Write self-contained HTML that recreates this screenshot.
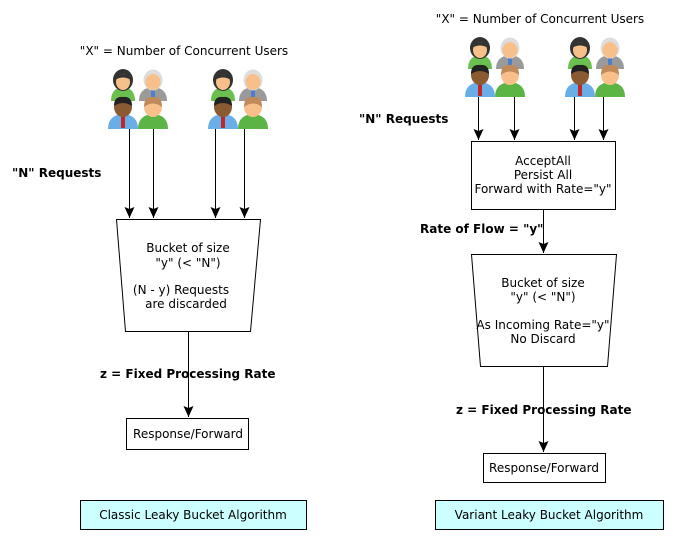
<!DOCTYPE html>
<html><head><meta charset="utf-8"><style>
body{margin:0;background:#fff;}
svg{display:block;font-family:"DejaVu Sans","Liberation Sans",sans-serif;font-size:12px;}
.b{font-weight:bold;}
</style></head><body>
<svg width="674" height="540" viewBox="0 0 674 540" xmlns="http://www.w3.org/2000/svg">
<defs>
<marker id="ar" markerWidth="12" markerHeight="10" refX="11" refY="5" orient="auto" markerUnits="userSpaceOnUse">
<path d="M0,0 L11,5 L0,10 L2,5 Z" fill="#000"/></marker>
<g id="woman">
<path d="M3,32 Q3,19 15,18 Q27,19 27,32 Z" fill="#6bbf4e"/>
<ellipse cx="15" cy="11" rx="10" ry="11" fill="#333"/>
<ellipse cx="15" cy="13" rx="7" ry="8" fill="#f7c08a"/>
<path d="M7,9 Q15,1 23,9 L23,11 Q15,6 7,11Z" fill="#333"/>
</g>
<g id="old">
<path d="M1,32 Q1,19 15,18 Q29,19 29,32 Z" fill="#9a9a9a"/>
<rect x="13" y="19" width="4" height="11" fill="#4a7fd0"/>
<ellipse cx="15" cy="11" rx="9.5" ry="10.5" fill="#ddd"/>
<ellipse cx="15" cy="13" rx="7.5" ry="8" fill="#f7c08a"/>
</g>
<g id="dark">
<path d="M0,34 Q0,20 15,19 Q30,20 30,34 Z" fill="#6aaee8"/>
<rect x="13" y="20" width="4" height="13" fill="#c0262a"/>
<ellipse cx="15" cy="12" rx="9" ry="10" fill="#8a5a32"/>
<path d="M6,11 Q6,1 15,2 Q24,1 24,11 Q15,5 6,11Z" fill="#222"/>
</g>
<g id="light">
<path d="M0,34 Q0,20 15,19 Q30,20 30,34 Z" fill="#5cb444"/>
<ellipse cx="15" cy="12" rx="9" ry="10" fill="#f7c08a"/>
<path d="M6,12 Q6,1 15,2 Q24,1 24,12 Q15,5 6,12Z" fill="#c08a5a"/>
</g>
<g id="grp">
<use href="#woman" x="0" y="0"/><use href="#old" x="30" y="0"/>
<use href="#dark" x="0" y="26"/><use href="#light" x="30" y="26"/>
</g>
</defs>

<!-- LEFT -->
<text x="184" y="55" text-anchor="middle">"X" = Number of Concurrent Users</text>
<use href="#grp" x="108" y="69"/>
<use href="#grp" x="208" y="69"/>
<g stroke="#000" stroke-width="1" marker-end="url(#ar)">
<line x1="129.5" y1="129" x2="129.5" y2="218"/>
<line x1="153.5" y1="129" x2="153.5" y2="218"/>
<line x1="215.5" y1="129" x2="215.5" y2="218"/>
<line x1="244.5" y1="129" x2="244.5" y2="218"/>
<line x1="188.5" y1="331" x2="188.5" y2="417"/>
</g>
<text x="12" y="177" class="b">"N" Requests</text>
<path d="M116.5,219.5 L260.5,219.5 L250.5,331.5 L125.5,331.5 Z" fill="#fff" stroke="#000"/>
<g text-anchor="middle">
<text x="188" y="252">Bucket of size</text>
<text x="188" y="267">"y" (&lt; "N")</text>
<text x="181" y="294">(N - y) Requests</text>
<text x="186" y="308">are discarded</text>
</g>
<text x="100" y="378" class="b">z = Fixed Processing Rate</text>
<rect x="126.5" y="418.5" width="122" height="31" fill="#fff" stroke="#000"/>
<text x="188" y="438" text-anchor="middle">Response/Forward</text>
<rect x="80.5" y="500.5" width="226" height="29" fill="#ccffff" stroke="#000"/>
<text x="193" y="519" text-anchor="middle">Classic Leaky Bucket Algorithm</text>

<!-- RIGHT -->
<text x="540" y="23" text-anchor="middle">"X" = Number of Concurrent Users</text>
<use href="#grp" x="465" y="37"/>
<use href="#grp" x="565" y="37"/>
<g stroke="#000" stroke-width="1" marker-end="url(#ar)">
<line x1="478.5" y1="97" x2="478.5" y2="140"/>
<line x1="514.5" y1="97" x2="514.5" y2="140"/>
<line x1="574.5" y1="97" x2="574.5" y2="140"/>
<line x1="603.5" y1="97" x2="603.5" y2="140"/>
<line x1="543.5" y1="210" x2="543.5" y2="253"/>
<line x1="543.5" y1="366" x2="543.5" y2="452"/>
</g>
<text x="359" y="123" class="b">"N" Requests</text>
<rect x="471.5" y="141.5" width="144" height="68" fill="#fff" stroke="#000"/>
<g text-anchor="middle">
<text x="543" y="165">AcceptAll</text>
<text x="543" y="179">Persist All</text>
<text x="543" y="193">Forward with Rate="y"</text>
</g>
<text x="420" y="233" class="b">Rate of Flow = "y"</text>
<path d="M471.5,254.5 L616.5,254.5 L607.5,366.5 L480.5,366.5 Z" fill="#fff" stroke="#000"/>
<g text-anchor="middle">
<text x="543" y="287">Bucket of size</text>
<text x="543" y="301">"y" (&lt; "N")</text>
<text x="543" y="329">As Incoming Rate="y"</text>
<text x="543" y="343">No Discard</text>
</g>
<text x="456" y="414" class="b">z = Fixed Processing Rate</text>
<rect x="483.5" y="453.5" width="122" height="29" fill="#fff" stroke="#000"/>
<text x="544" y="472" text-anchor="middle">Response/Forward</text>
<rect x="435.5" y="500.5" width="228" height="29" fill="#ccffff" stroke="#000"/>
<text x="549" y="519" text-anchor="middle">Variant Leaky Bucket Algorithm</text>
</svg>
</body></html>
